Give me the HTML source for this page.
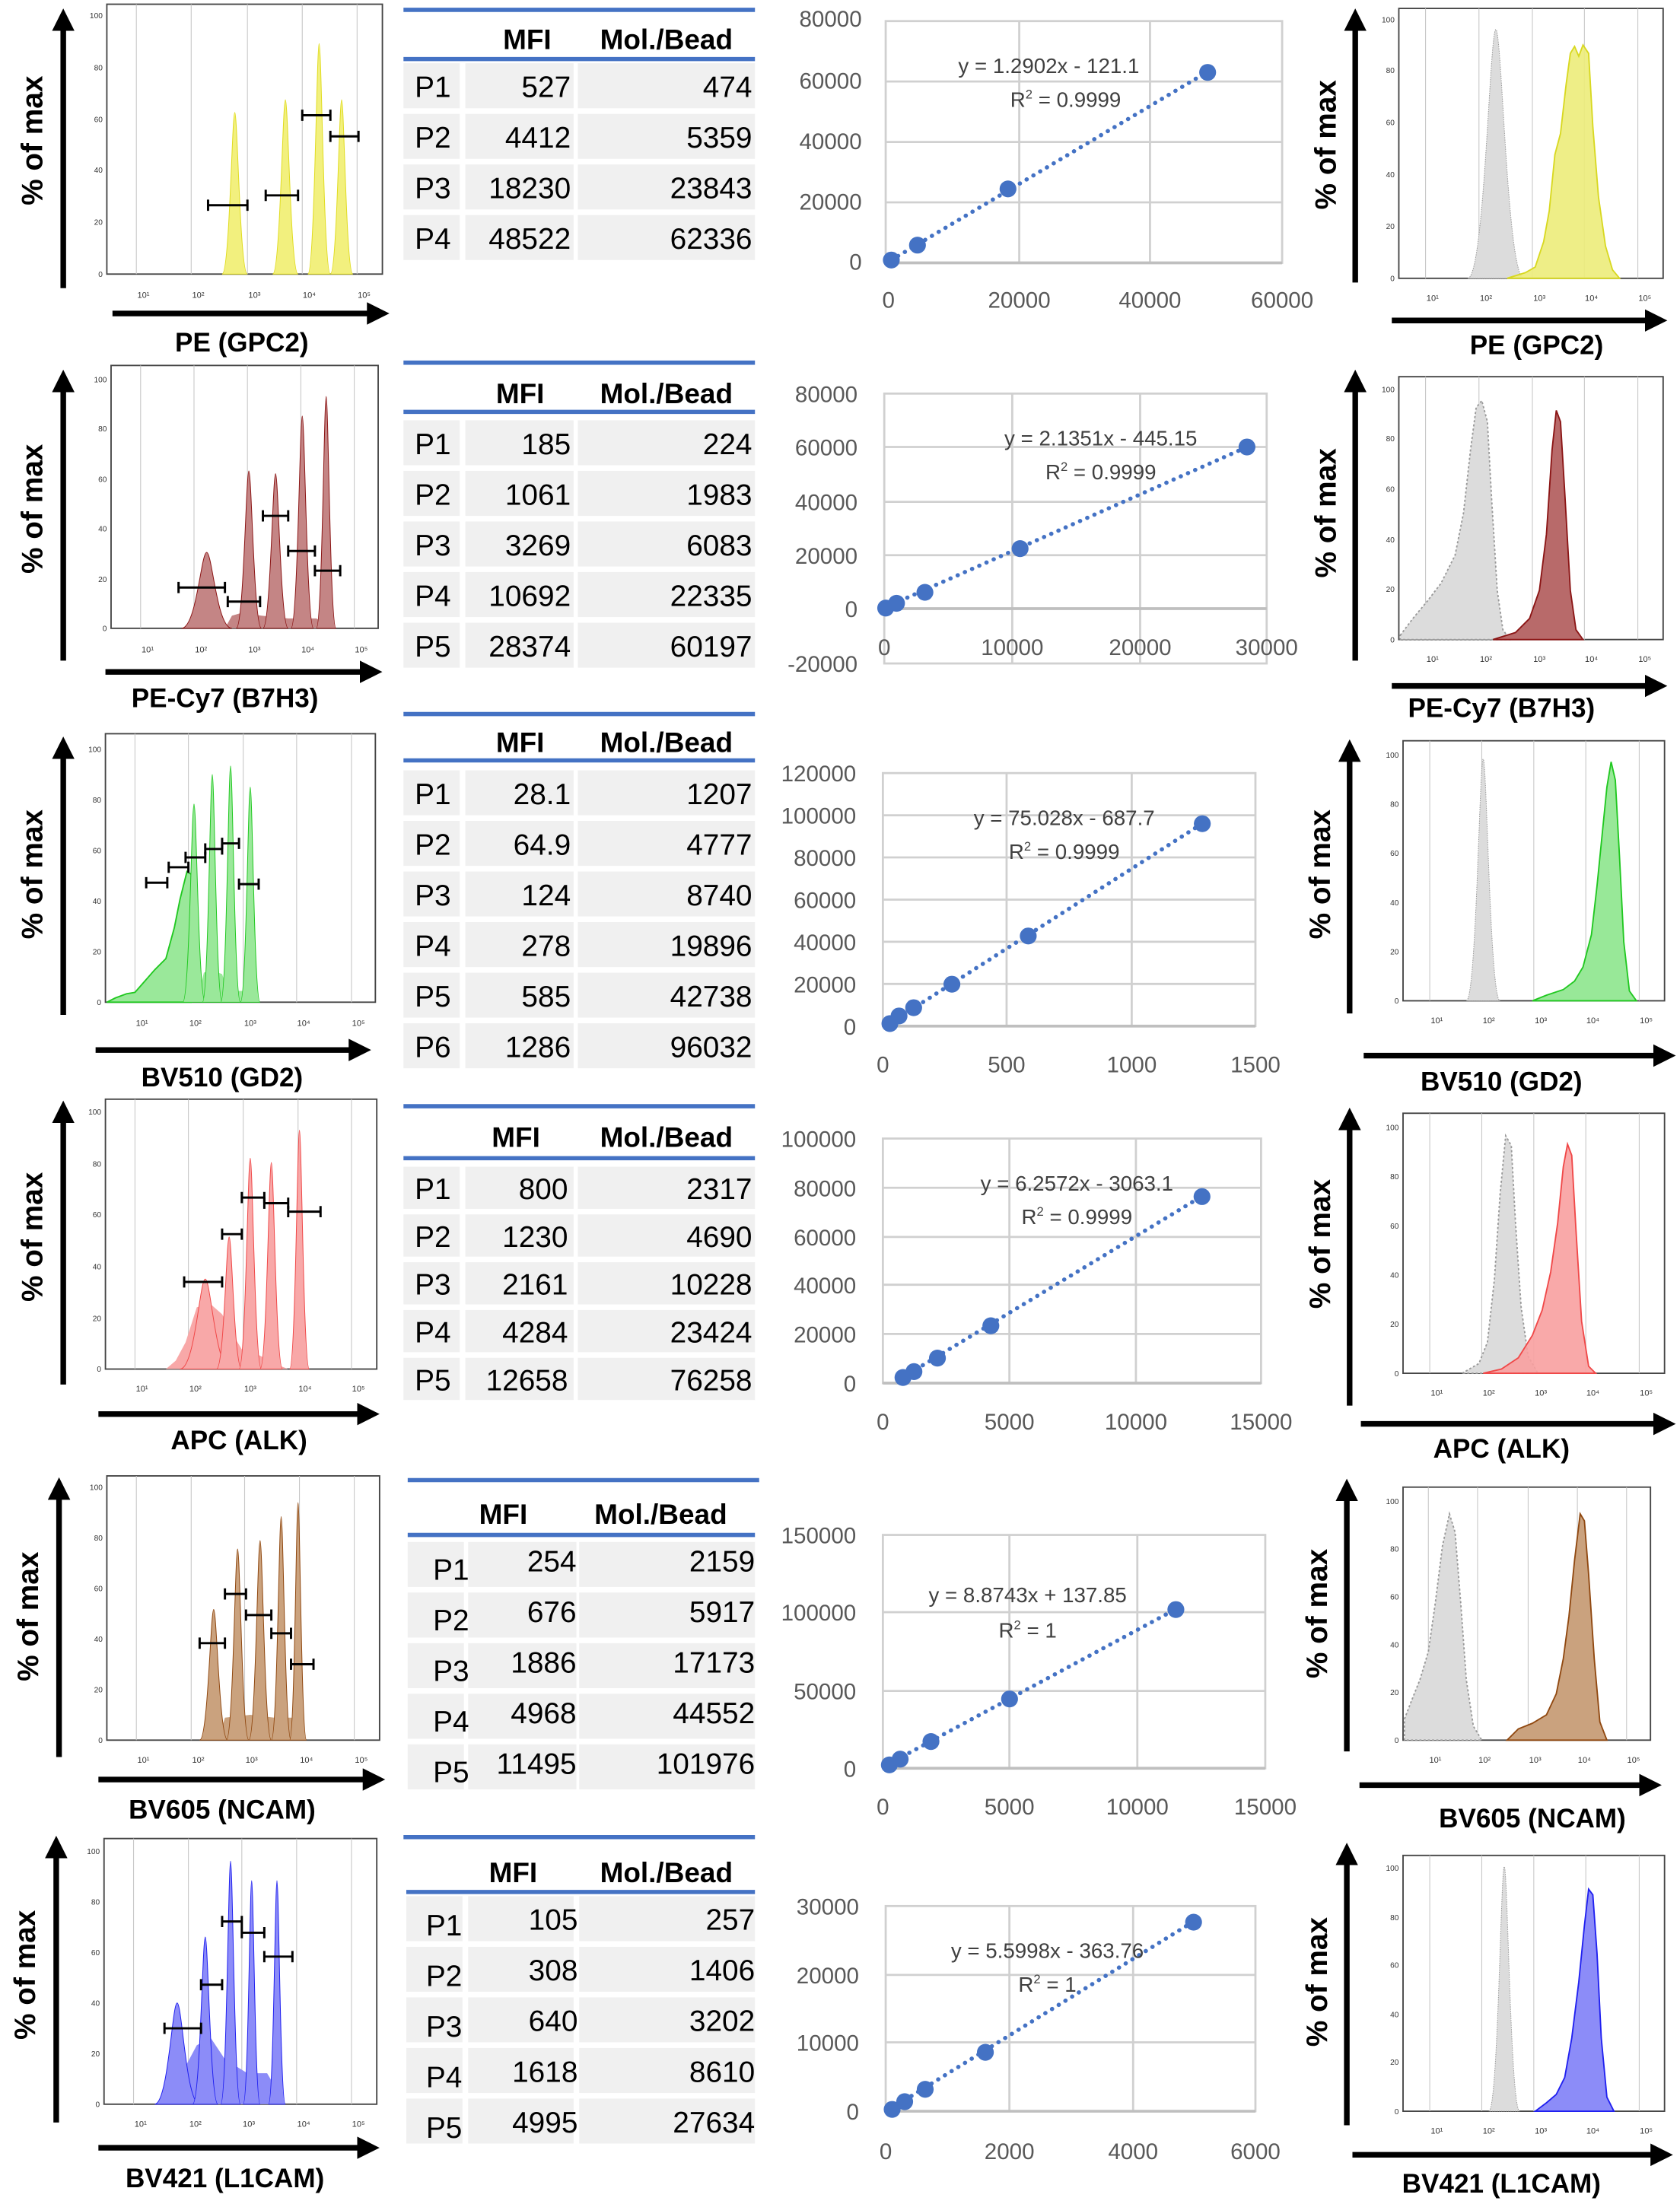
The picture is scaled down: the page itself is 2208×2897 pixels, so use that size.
<!DOCTYPE html>
<html><head><meta charset="utf-8">
<style>
html,body{margin:0;padding:0;background:#fff;}
svg{display:block;}
text{font-family:"Liberation Sans",sans-serif;}
.ax{font-weight:bold;font-size:21px;fill:#000;}
.lb{font-weight:bold;font-size:19px;fill:#000;}
.tk{font-size:5.5px;fill:#333;}
.dk{font-size:6px;fill:#333;}
.th{font-weight:bold;font-size:20px;fill:#000;}
.td{font-size:21px;fill:#000;}
.sl{font-size:16px;fill:#595959;}
.eq{font-size:15px;fill:#404040;}
.gl{stroke:#d0d0d0;stroke-width:1.5;fill:none;}
.hg{stroke:#c8c8c8;stroke-width:0.6;}
.cell{fill:#f0f0f0;}
.bl{stroke:#4472c4;stroke-width:3;}
.pt{fill:#4472c4;}
.tl{stroke:#4472c4;stroke-width:3;stroke-dasharray:0.1 5.5;stroke-linecap:round;fill:none;}
.eb{stroke:#000;stroke-width:1.6;fill:none;}
.gr{fill:#dcdcdc;stroke:#999;stroke-width:1;stroke-dasharray:1.5 1.5;}
</style></head>
<body>
<svg width="2208" height="2897" viewBox="0 0 1195 1568" preserveAspectRatio="none" xmlns="http://www.w3.org/2000/svg">
<defs>
<path id="pk" d="M-1,0 C-0.4,0 -0.22,-1 0,-1 C0.22,-1 0.4,0 1,0Z" vector-effect="non-scaling-stroke"/>
<marker id="ah" markerWidth="4" markerHeight="4" refX="1" refY="2" orient="auto" markerUnits="strokeWidth"><path d="M0,0 L4,2 L0,4Z" fill="#000"/></marker>
</defs>
<rect width="1195" height="1568" fill="#fff"/>

<!-- ============ ROW 1 ============ -->
<g>
<line x1="45" y1="205" x2="45" y2="18" stroke="#000" stroke-width="4" marker-end="url(#ah)"/>
<text class="ax" transform="translate(30,100) rotate(-90)" text-anchor="middle">% of max</text>
<rect x="76" y="3" width="196" height="192" fill="#fff" stroke="#444" stroke-width="1"/>
<g class="hg"><line x1="97" y1="3" x2="97" y2="195"/><line x1="136" y1="3" x2="136" y2="195"/><line x1="176" y1="3" x2="176" y2="195"/><line x1="215" y1="3" x2="215" y2="195"/><line x1="254" y1="3" x2="254" y2="195"/></g>
<g fill="#f2f07e" stroke="#e0dc20" stroke-width="1"><use href="#pk" transform="translate(167,195) scale(9,115)"/><use href="#pk" transform="translate(203,195) scale(9,124)"/><use href="#pk" transform="translate(227,195) scale(8,164)"/><use href="#pk" transform="translate(243,195) scale(8,124)"/></g>
<g class="eb"><path d="M148,146H176M148,142V150M176,142V150"/><path d="M189,139H212M189,135V143M212,135V143"/><path d="M215,82H235M215,78V86M235,78V86"/><path d="M235,97H255M235,93V101M255,93V101"/></g>
<g class="tk" text-anchor="end"><text x="73" y="197">0</text><text x="73" y="160">20</text><text x="73" y="123">40</text><text x="73" y="87">60</text><text x="73" y="50">80</text><text x="73" y="13">100</text></g>
<g class="dk" text-anchor="middle"><text x="102" y="212">10¹</text><text x="141" y="212">10²</text><text x="181" y="212">10³</text><text x="220" y="212">10⁴</text><text x="259" y="212">10⁵</text></g>
<line x1="80" y1="223" x2="265" y2="223" stroke="#000" stroke-width="4" marker-end="url(#ah)"/>
<text class="lb" x="172" y="250" text-anchor="middle">PE (GPC2)</text>

<line class="bl" x1="287" y1="7" x2="537" y2="7"/>
<text class="th" x="375" y="35" text-anchor="middle">MFI</text><text class="th" x="474" y="35" text-anchor="middle">Mol./Bead</text>
<line class="bl" x1="287" y1="42" x2="537" y2="42"/>
<g class="cell"><rect x="287" y="45" width="40" height="32"/><rect x="331" y="45" width="77" height="32"/><rect x="411" y="45" width="126" height="32"/>
<rect x="287" y="81" width="40" height="32"/><rect x="331" y="81" width="77" height="32"/><rect x="411" y="81" width="126" height="32"/>
<rect x="287" y="117" width="40" height="32"/><rect x="331" y="117" width="77" height="32"/><rect x="411" y="117" width="126" height="32"/>
<rect x="287" y="153" width="40" height="32"/><rect x="331" y="153" width="77" height="32"/><rect x="411" y="153" width="126" height="32"/></g>
<g class="td"><text x="295" y="69">P1</text><text x="295" y="105">P2</text><text x="295" y="141">P3</text><text x="295" y="177">P4</text></g>
<g class="td" text-anchor="end"><text x="406" y="69">527</text><text x="406" y="105">4412</text><text x="406" y="141">18230</text><text x="406" y="177">48522</text>
<text x="535" y="69">474</text><text x="535" y="105">5359</text><text x="535" y="141">23843</text><text x="535" y="177">62336</text></g>

<rect x="630" y="15" width="282" height="172" fill="none" stroke="#d0d0d0" stroke-width="1.5"/>
<g class="gl"><line x1="725" y1="15" x2="725" y2="187"/><line x1="818" y1="15" x2="818" y2="187"/><line x1="630" y1="58" x2="912" y2="58"/><line x1="630" y1="101" x2="912" y2="101"/><line x1="630" y1="144" x2="912" y2="144"/></g>
<line x1="630" y1="187" x2="912" y2="187" stroke="#bfbfbf" stroke-width="2"/>
<g class="sl" text-anchor="end"><text x="613" y="19">80000</text><text x="613" y="63">60000</text><text x="613" y="106">40000</text><text x="613" y="149">20000</text><text x="613" y="192">0</text></g>
<g class="sl" text-anchor="middle"><text x="632" y="219">0</text><text x="725" y="219">20000</text><text x="818" y="219">40000</text><text x="912" y="219">60000</text></g>
<line class="tl" x1="634" y1="185" x2="859" y2="51"/>
<g class="pt"><circle cx="634" cy="185" r="6"/><circle cx="652.6" cy="174.4" r="6"/><circle cx="717" cy="134.4" r="6"/><circle cx="859" cy="51.5" r="6"/></g>
<text class="eq" x="746" y="52" text-anchor="middle">y = 1.2902x - 121.1</text>
<text class="eq" x="758" y="76" text-anchor="middle">R<tspan dy="-6" font-size="9">2</tspan><tspan dy="6"> = 0.9999</tspan></text>

<line x1="964" y1="201" x2="964" y2="18" stroke="#000" stroke-width="4" marker-end="url(#ah)"/>
<text class="ax" transform="translate(950,103) rotate(-90)" text-anchor="middle">% of max</text>
<rect x="995" y="6" width="188" height="192" fill="#fff" stroke="#444" stroke-width="1"/>
<g class="hg"><line x1="1014" y1="6" x2="1014" y2="198"/><line x1="1052" y1="6" x2="1052" y2="198"/><line x1="1090" y1="6" x2="1090" y2="198"/><line x1="1127" y1="6" x2="1127" y2="198"/><line x1="1165" y1="6" x2="1165" y2="198"/></g>
<use href="#pk" class="gr" transform="translate(1064,198) scale(20,177)"/>
<path d="M1072,198 L1085,194 L1092,190 L1098,172 L1102,150 L1106,110 L1110,95 L1114,60 L1117,38 L1120,33 L1123,40 L1126,32 L1130,38 L1133,90 L1137,140 L1142,175 L1147,192 L1152,198Z" fill="#ecec7a" fill-opacity="0.9" stroke="#d8d820" stroke-width="1"/>
<g class="tk" text-anchor="end"><text x="992" y="200">0</text><text x="992" y="163">20</text><text x="992" y="126">40</text><text x="992" y="89">60</text><text x="992" y="52">80</text><text x="992" y="16">100</text></g>
<g class="dk" text-anchor="middle"><text x="1019" y="214">10¹</text><text x="1057" y="214">10²</text><text x="1095" y="214">10³</text><text x="1132" y="214">10⁴</text><text x="1170" y="214">10⁵</text></g>
<line x1="990" y1="228" x2="1174" y2="228" stroke="#000" stroke-width="4" marker-end="url(#ah)"/>
<text class="lb" x="1093" y="252" text-anchor="middle">PE (GPC2)</text>
</g>

<!-- ============ ROW 2 ============ -->
<g>
<line x1="45" y1="470" x2="45" y2="275" stroke="#000" stroke-width="4" marker-end="url(#ah)"/>
<text class="ax" transform="translate(30,362) rotate(-90)" text-anchor="middle">% of max</text>
<rect x="79" y="260" width="190" height="187" fill="#fff" stroke="#444" stroke-width="1"/>
<g class="hg"><line x1="100" y1="260" x2="100" y2="447"/><line x1="138" y1="260" x2="138" y2="447"/><line x1="176" y1="260" x2="176" y2="447"/><line x1="214" y1="260" x2="214" y2="447"/><line x1="252" y1="260" x2="252" y2="447"/></g>
<path d="M160,447 L165,438 L172,436 L186,438 L205,440 L225,440 L238,447Z" fill="#c48585"/>
<g fill="#c48585" stroke="#8b1515" stroke-width="1"><use href="#pk" transform="translate(147,447) scale(18,54)"/><use href="#pk" transform="translate(177,447) scale(9,112)"/><use href="#pk" transform="translate(196,447) scale(9,110)"/><use href="#pk" transform="translate(215,447) scale(8,151)"/><use href="#pk" transform="translate(232,447) scale(7,165)"/></g>
<g class="eb"><path d="M127,418H160M127,414V422M160,414V422"/><path d="M162,428H185M162,424V432M185,424V432"/><path d="M187,367H205M187,363V371M205,363V371"/><path d="M205,392H224M205,388V396M224,388V396"/><path d="M224,406H242M224,402V410M242,402V410"/></g>
<g class="tk" text-anchor="end"><text x="76" y="449">0</text><text x="76" y="414">20</text><text x="76" y="378">40</text><text x="76" y="343">60</text><text x="76" y="307">80</text><text x="76" y="272">100</text></g>
<g class="dk" text-anchor="middle"><text x="105" y="464">10¹</text><text x="143" y="464">10²</text><text x="181" y="464">10³</text><text x="219" y="464">10⁴</text><text x="257" y="464">10⁵</text></g>
<line x1="75" y1="478" x2="260" y2="478" stroke="#000" stroke-width="4" marker-end="url(#ah)"/>
<text class="lb" x="160" y="503" text-anchor="middle">PE-Cy7 (B7H3)</text>

<line class="bl" x1="287" y1="258" x2="537" y2="258"/>
<text class="th" x="370" y="287" text-anchor="middle">MFI</text><text class="th" x="474" y="287" text-anchor="middle">Mol./Bead</text>
<line class="bl" x1="287" y1="293" x2="537" y2="293"/>
<g class="cell">
<rect x="287" y="299" width="40" height="32"/><rect x="331" y="299" width="77" height="32"/><rect x="411" y="299" width="126" height="32"/>
<rect x="287" y="335" width="40" height="32"/><rect x="331" y="335" width="77" height="32"/><rect x="411" y="335" width="126" height="32"/>
<rect x="287" y="371" width="40" height="32"/><rect x="331" y="371" width="77" height="32"/><rect x="411" y="371" width="126" height="32"/>
<rect x="287" y="407" width="40" height="32"/><rect x="331" y="407" width="77" height="32"/><rect x="411" y="407" width="126" height="32"/>
<rect x="287" y="443" width="40" height="32"/><rect x="331" y="443" width="77" height="32"/><rect x="411" y="443" width="126" height="32"/></g>
<g class="td"><text x="295" y="323">P1</text><text x="295" y="359">P2</text><text x="295" y="395">P3</text><text x="295" y="431">P4</text><text x="295" y="467">P5</text></g>
<g class="td" text-anchor="end"><text x="406" y="323">185</text><text x="406" y="359">1061</text><text x="406" y="395">3269</text><text x="406" y="431">10692</text><text x="406" y="467">28374</text>
<text x="535" y="323">224</text><text x="535" y="359">1983</text><text x="535" y="395">6083</text><text x="535" y="431">22335</text><text x="535" y="467">60197</text></g>

<rect x="629" y="280" width="272" height="192" fill="none" stroke="#d0d0d0" stroke-width="1.5"/>
<g class="gl"><line x1="720" y1="280" x2="720" y2="472"/><line x1="811" y1="280" x2="811" y2="472"/><line x1="629" y1="318" x2="901" y2="318"/><line x1="629" y1="357" x2="901" y2="357"/><line x1="629" y1="395" x2="901" y2="395"/></g>
<line x1="629" y1="433" x2="901" y2="433" stroke="#bfbfbf" stroke-width="2"/>
<g class="sl" text-anchor="end"><text x="610" y="286">80000</text><text x="610" y="324">60000</text><text x="610" y="363">40000</text><text x="610" y="401">20000</text><text x="610" y="439">0</text><text x="610" y="478">-20000</text></g>
<g class="sl" text-anchor="middle"><text x="629" y="466">0</text><text x="720" y="466">10000</text><text x="811" y="466">20000</text><text x="901" y="466">30000</text></g>
<line class="tl" x1="630" y1="432" x2="887" y2="318"/>
<g class="pt"><circle cx="630" cy="432.6" r="6"/><circle cx="637.7" cy="429.2" r="6"/><circle cx="657.9" cy="421.4" r="6"/><circle cx="725.6" cy="390.3" r="6"/><circle cx="887" cy="318" r="6"/></g>
<text class="eq" x="783" y="317" text-anchor="middle">y = 2.1351x - 445.15</text>
<text class="eq" x="783" y="341" text-anchor="middle">R<tspan dy="-6" font-size="9">2</tspan><tspan dy="6"> = 0.9999</tspan></text>

<line x1="964" y1="470" x2="964" y2="275" stroke="#000" stroke-width="4" marker-end="url(#ah)"/>
<text class="ax" transform="translate(950,365) rotate(-90)" text-anchor="middle">% of max</text>
<rect x="995" y="268" width="188" height="187" fill="#fff" stroke="#444" stroke-width="1"/>
<g class="hg"><line x1="1014" y1="268" x2="1014" y2="455"/><line x1="1052" y1="268" x2="1052" y2="455"/><line x1="1090" y1="268" x2="1090" y2="455"/><line x1="1127" y1="268" x2="1127" y2="455"/><line x1="1165" y1="268" x2="1165" y2="455"/></g>
<path class="gr" d="M996,452 L1005,440 L1015,428 L1025,415 L1035,395 L1041,365 L1046,320 L1050,290 L1054,285 L1058,300 L1061,355 L1065,420 L1069,448 L1074,455 L996,455Z"/>
<path d="M1062,455 L1078,450 L1088,440 L1095,420 L1100,380 L1104,320 L1107,292 L1110,300 L1113,350 L1117,420 L1121,448 L1126,455Z" fill="#b86a6a" stroke="#8b1515" stroke-width="1"/>
<g class="tk" text-anchor="end"><text x="992" y="457">0</text><text x="992" y="421">20</text><text x="992" y="386">40</text><text x="992" y="350">60</text><text x="992" y="314">80</text><text x="992" y="279">100</text></g>
<g class="dk" text-anchor="middle"><text x="1019" y="471">10¹</text><text x="1057" y="471">10²</text><text x="1095" y="471">10³</text><text x="1132" y="471">10⁴</text><text x="1170" y="471">10⁵</text></g>
<line x1="990" y1="488" x2="1174" y2="488" stroke="#000" stroke-width="4" marker-end="url(#ah)"/>
<text class="lb" x="1068" y="510" text-anchor="middle">PE-Cy7 (B7H3)</text>
</g>

<!-- ============ ROW 3 ============ -->
<g>
<line x1="45" y1="722" x2="45" y2="536" stroke="#000" stroke-width="4" marker-end="url(#ah)"/>
<text class="ax" transform="translate(30,622) rotate(-90)" text-anchor="middle">% of max</text>
<rect x="75" y="522" width="192" height="191" fill="#fff" stroke="#444" stroke-width="1"/>
<g class="hg"><line x1="96" y1="522" x2="96" y2="713"/><line x1="134" y1="522" x2="134" y2="713"/><line x1="173" y1="522" x2="173" y2="713"/><line x1="211" y1="522" x2="211" y2="713"/><line x1="250" y1="522" x2="250" y2="713"/></g>
<path d="M140,713 L145,692 L150,690 L158,693 L162,705 L170,705 L176,705 L182,713Z" fill="#9ae89a"/>
<g fill="#9ae89a" stroke="#20c820" stroke-width="1">
<path d="M76,713 L82,710 L90,707 L96,706 L103,698 L110,690 L118,682 L124,660 L128,640 L133,620 L136,622 L136,713Z"/>
<use href="#pk" transform="translate(138,713) scale(8,141)"/><use href="#pk" transform="translate(151,713) scale(7,162)"/><use href="#pk" transform="translate(164,713) scale(7,168)"/><use href="#pk" transform="translate(178,713) scale(7,153)"/></g>
<g class="eb"><path d="M104,628H119M104,624V632M119,624V632"/><path d="M120,617H134M120,613V621M134,613V621"/><path d="M132,610H146M132,606V614M146,606V614"/><path d="M146,604H158M146,600V608M158,600V608"/><path d="M158,600H170M158,596V604M170,596V604"/><path d="M170,629H184M170,625V633M184,625V633"/></g>
<g class="tk" text-anchor="end"><text x="72" y="715">0</text><text x="72" y="679">20</text><text x="72" y="643">40</text><text x="72" y="607">60</text><text x="72" y="571">80</text><text x="72" y="535">100</text></g>
<g class="dk" text-anchor="middle"><text x="101" y="730">10¹</text><text x="139" y="730">10²</text><text x="178" y="730">10³</text><text x="216" y="730">10⁴</text><text x="255" y="730">10⁵</text></g>
<line x1="68" y1="747" x2="252" y2="747" stroke="#000" stroke-width="4" marker-end="url(#ah)"/>
<text class="lb" x="158" y="773" text-anchor="middle">BV510 (GD2)</text>

<line class="bl" x1="287" y1="508" x2="537" y2="508"/>
<text class="th" x="370" y="535" text-anchor="middle">MFI</text><text class="th" x="474" y="535" text-anchor="middle">Mol./Bead</text>
<line class="bl" x1="287" y1="541" x2="537" y2="541"/>
<g class="cell">
<rect x="287" y="548" width="40" height="32"/><rect x="331" y="548" width="77" height="32"/><rect x="411" y="548" width="126" height="32"/>
<rect x="287" y="584" width="40" height="32"/><rect x="331" y="584" width="77" height="32"/><rect x="411" y="584" width="126" height="32"/>
<rect x="287" y="620" width="40" height="32"/><rect x="331" y="620" width="77" height="32"/><rect x="411" y="620" width="126" height="32"/>
<rect x="287" y="656" width="40" height="32"/><rect x="331" y="656" width="77" height="32"/><rect x="411" y="656" width="126" height="32"/>
<rect x="287" y="692" width="40" height="32"/><rect x="331" y="692" width="77" height="32"/><rect x="411" y="692" width="126" height="32"/>
<rect x="287" y="728" width="40" height="32"/><rect x="331" y="728" width="77" height="32"/><rect x="411" y="728" width="126" height="32"/></g>
<g class="td"><text x="295" y="572">P1</text><text x="295" y="608">P2</text><text x="295" y="644">P3</text><text x="295" y="680">P4</text><text x="295" y="716">P5</text><text x="295" y="752">P6</text></g>
<g class="td" text-anchor="end"><text x="406" y="572">28.1</text><text x="406" y="608">64.9</text><text x="406" y="644">124</text><text x="406" y="680">278</text><text x="406" y="716">585</text><text x="406" y="752">1286</text>
<text x="535" y="572">1207</text><text x="535" y="608">4777</text><text x="535" y="644">8740</text><text x="535" y="680">19896</text><text x="535" y="716">42738</text><text x="535" y="752">96032</text></g>

<rect x="628" y="550" width="265" height="180" fill="none" stroke="#d0d0d0" stroke-width="1.5"/>
<g class="gl"><line x1="716" y1="550" x2="716" y2="730"/><line x1="805" y1="550" x2="805" y2="730"/><line x1="628" y1="580" x2="893" y2="580"/><line x1="628" y1="610" x2="893" y2="610"/><line x1="628" y1="640" x2="893" y2="640"/><line x1="628" y1="670" x2="893" y2="670"/><line x1="628" y1="700" x2="893" y2="700"/></g>
<line x1="628" y1="730" x2="893" y2="730" stroke="#bfbfbf" stroke-width="2"/>
<g class="sl" text-anchor="end"><text x="609" y="556">120000</text><text x="609" y="586">100000</text><text x="609" y="616">80000</text><text x="609" y="646">60000</text><text x="609" y="676">40000</text><text x="609" y="706">20000</text><text x="609" y="736">0</text></g>
<g class="sl" text-anchor="middle"><text x="628" y="763">0</text><text x="716" y="763">500</text><text x="805" y="763">1000</text><text x="893" y="763">1500</text></g>
<line class="tl" x1="633" y1="728" x2="855" y2="586"/>
<g class="pt"><circle cx="633" cy="728.2" r="6"/><circle cx="639.5" cy="722.8" r="6"/><circle cx="649.9" cy="716.9" r="6"/><circle cx="677.1" cy="700.2" r="6"/><circle cx="731.4" cy="665.9" r="6"/><circle cx="855.2" cy="586" r="6"/></g>
<text class="eq" x="757" y="587" text-anchor="middle">y = 75.028x - 687.7</text>
<text class="eq" x="757" y="611" text-anchor="middle">R<tspan dy="-6" font-size="9">2</tspan><tspan dy="6"> = 0.9999</tspan></text>

<line x1="960" y1="721" x2="960" y2="538" stroke="#000" stroke-width="4" marker-end="url(#ah)"/>
<text class="ax" transform="translate(946,622) rotate(-90)" text-anchor="middle">% of max</text>
<rect x="998" y="527" width="186" height="185" fill="#fff" stroke="#444" stroke-width="1"/>
<g class="hg"><line x1="1017" y1="527" x2="1017" y2="712"/><line x1="1054" y1="527" x2="1054" y2="712"/><line x1="1091" y1="527" x2="1091" y2="712"/><line x1="1128" y1="527" x2="1128" y2="712"/><line x1="1166" y1="527" x2="1166" y2="712"/></g>
<use href="#pk" class="gr" transform="translate(1055,712) scale(12,172)"/>
<path d="M1090,712 L1100,708 L1112,704 L1120,698 L1126,688 L1132,665 L1136,630 L1140,590 L1143,560 L1146,542 L1149,555 L1152,610 L1155,670 L1159,705 L1164,712Z" fill="#98e898" stroke="#20c820" stroke-width="1"/>
<g class="tk" text-anchor="end"><text x="995" y="714">0</text><text x="995" y="679">20</text><text x="995" y="644">40</text><text x="995" y="609">60</text><text x="995" y="574">80</text><text x="995" y="539">100</text></g>
<g class="dk" text-anchor="middle"><text x="1022" y="728">10¹</text><text x="1059" y="728">10²</text><text x="1096" y="728">10³</text><text x="1133" y="728">10⁴</text><text x="1171" y="728">10⁵</text></g>
<line x1="970" y1="751" x2="1180" y2="751" stroke="#000" stroke-width="4" marker-end="url(#ah)"/>
<text class="lb" x="1068" y="776" text-anchor="middle">BV510 (GD2)</text>
</g>

<!-- ============ ROW 4 ============ -->
<g>
<line x1="45" y1="985" x2="45" y2="795" stroke="#000" stroke-width="4" marker-end="url(#ah)"/>
<text class="ax" transform="translate(30,880) rotate(-90)" text-anchor="middle">% of max</text>
<rect x="75" y="782" width="193" height="192" fill="#fff" stroke="#444" stroke-width="1"/>
<g class="hg"><line x1="96" y1="782" x2="96" y2="974"/><line x1="134" y1="782" x2="134" y2="974"/><line x1="173" y1="782" x2="173" y2="974"/><line x1="212" y1="782" x2="212" y2="974"/><line x1="250" y1="782" x2="250" y2="974"/></g>
<path d="M118,974 L125,968 L132,955 L140,930 L150,928 L158,935 L166,950 L172,960 L180,962 L188,966 L200,972 L205,974Z" fill="#f8a8a8"/>
<g fill="#f8a8a8" stroke="#f04848" stroke-width="1"><use href="#pk" transform="translate(146,974) scale(18,64)"/><use href="#pk" transform="translate(163,974) scale(9,94)"/><use href="#pk" transform="translate(178,974) scale(8,150)"/><use href="#pk" transform="translate(193,974) scale(8,147)"/><use href="#pk" transform="translate(213,974) scale(7,170)"/></g>
<g class="eb"><path d="M131,912H158M131,908V916M158,908V916"/><path d="M158,878H172M158,874V882M172,874V882"/><path d="M172,852H188M172,848V856M188,848V856"/><path d="M188,856H205M188,852V860M205,852V860"/><path d="M205,862H228M205,858V866M228,858V866"/></g>
<g class="tk" text-anchor="end"><text x="72" y="976">0</text><text x="72" y="940">20</text><text x="72" y="903">40</text><text x="72" y="866">60</text><text x="72" y="830">80</text><text x="72" y="793">100</text></g>
<g class="dk" text-anchor="middle"><text x="101" y="990">10¹</text><text x="139" y="990">10²</text><text x="178" y="990">10³</text><text x="217" y="990">10⁴</text><text x="255" y="990">10⁵</text></g>
<line x1="70" y1="1006" x2="258" y2="1006" stroke="#000" stroke-width="4" marker-end="url(#ah)"/>
<text class="lb" x="170" y="1031" text-anchor="middle">APC (ALK)</text>

<line class="bl" x1="287" y1="787" x2="537" y2="787"/>
<text class="th" x="367" y="816" text-anchor="middle">MFI</text><text class="th" x="474" y="816" text-anchor="middle">Mol./Bead</text>
<line class="bl" x1="287" y1="824" x2="537" y2="824"/>
<g class="cell">
<rect x="287" y="830" width="40" height="30"/><rect x="331" y="830" width="77" height="30"/><rect x="411" y="830" width="126" height="30"/>
<rect x="287" y="864" width="40" height="30"/><rect x="331" y="864" width="77" height="30"/><rect x="411" y="864" width="126" height="30"/>
<rect x="287" y="898" width="40" height="30"/><rect x="331" y="898" width="77" height="30"/><rect x="411" y="898" width="126" height="30"/>
<rect x="287" y="932" width="40" height="30"/><rect x="331" y="932" width="77" height="30"/><rect x="411" y="932" width="126" height="30"/>
<rect x="287" y="966" width="40" height="30"/><rect x="331" y="966" width="77" height="30"/><rect x="411" y="966" width="126" height="30"/></g>
<g class="td"><text x="295" y="853">P1</text><text x="295" y="887">P2</text><text x="295" y="921">P3</text><text x="295" y="955">P4</text><text x="295" y="989">P5</text></g>
<g class="td" text-anchor="end"><text x="404" y="853">800</text><text x="404" y="887">1230</text><text x="404" y="921">2161</text><text x="404" y="955">4284</text><text x="404" y="989">12658</text>
<text x="535" y="853">2317</text><text x="535" y="887">4690</text><text x="535" y="921">10228</text><text x="535" y="955">23424</text><text x="535" y="989">76258</text></g>

<rect x="628" y="810" width="269" height="174" fill="none" stroke="#d0d0d0" stroke-width="1.5"/>
<g class="gl"><line x1="718" y1="810" x2="718" y2="984"/><line x1="808" y1="810" x2="808" y2="984"/><line x1="628" y1="845" x2="897" y2="845"/><line x1="628" y1="880" x2="897" y2="880"/><line x1="628" y1="914" x2="897" y2="914"/><line x1="628" y1="949" x2="897" y2="949"/></g>
<line x1="628" y1="984" x2="897" y2="984" stroke="#bfbfbf" stroke-width="2"/>
<g class="sl" text-anchor="end"><text x="609" y="816">100000</text><text x="609" y="851">80000</text><text x="609" y="886">60000</text><text x="609" y="920">40000</text><text x="609" y="955">20000</text><text x="609" y="990">0</text></g>
<g class="sl" text-anchor="middle"><text x="628" y="1017">0</text><text x="718" y="1017">5000</text><text x="808" y="1017">10000</text><text x="897" y="1017">15000</text></g>
<line class="tl" x1="642" y1="980" x2="855" y2="851"/>
<g class="pt"><circle cx="642.3" cy="980" r="6"/><circle cx="650.1" cy="975.8" r="6"/><circle cx="666.8" cy="966.2" r="6"/><circle cx="704.8" cy="943.2" r="6"/><circle cx="855" cy="851.3" r="6"/></g>
<text class="eq" x="766" y="847" text-anchor="middle">y = 6.2572x - 3063.1</text>
<text class="eq" x="766" y="871" text-anchor="middle">R<tspan dy="-6" font-size="9">2</tspan><tspan dy="6"> = 0.9999</tspan></text>

<line x1="960" y1="1000" x2="960" y2="800" stroke="#000" stroke-width="4" marker-end="url(#ah)"/>
<text class="ax" transform="translate(946,885) rotate(-90)" text-anchor="middle">% of max</text>
<rect x="998" y="792" width="186" height="185" fill="#fff" stroke="#444" stroke-width="1"/>
<g class="hg"><line x1="1017" y1="792" x2="1017" y2="977"/><line x1="1054" y1="792" x2="1054" y2="977"/><line x1="1091" y1="792" x2="1091" y2="977"/><line x1="1128" y1="792" x2="1128" y2="977"/><line x1="1166" y1="792" x2="1166" y2="977"/></g>
<path class="gr" d="M1040,977 L1052,970 L1058,955 L1063,910 L1067,850 L1071,808 L1075,815 L1078,870 L1082,930 L1087,965 L1094,977Z"/>
<path d="M1055,977 L1068,974 L1080,966 L1090,950 L1097,932 L1103,905 L1108,870 L1112,830 L1115,814 L1118,822 L1121,875 L1125,940 L1130,972 L1135,977Z" fill="#f8a0a0" fill-opacity="0.9" stroke="#f04848" stroke-width="1"/>
<g class="tk" text-anchor="end"><text x="995" y="979">0</text><text x="995" y="944">20</text><text x="995" y="909">40</text><text x="995" y="874">60</text><text x="995" y="839">80</text><text x="995" y="804">100</text></g>
<g class="dk" text-anchor="middle"><text x="1022" y="993">10¹</text><text x="1059" y="993">10²</text><text x="1096" y="993">10³</text><text x="1133" y="993">10⁴</text><text x="1171" y="993">10⁵</text></g>
<line x1="968" y1="1013" x2="1180" y2="1013" stroke="#000" stroke-width="4" marker-end="url(#ah)"/>
<text class="lb" x="1068" y="1037" text-anchor="middle">APC (ALK)</text>
</g>

<!-- ============ ROW 5 ============ -->
<g>
<line x1="42" y1="1250" x2="42" y2="1063" stroke="#000" stroke-width="4" marker-end="url(#ah)"/>
<text class="ax" transform="translate(27,1150) rotate(-90)" text-anchor="middle">% of max</text>
<rect x="76" y="1050" width="194" height="188" fill="#fff" stroke="#444" stroke-width="1"/>
<g class="hg"><line x1="97" y1="1050" x2="97" y2="1238"/><line x1="136" y1="1050" x2="136" y2="1238"/><line x1="174" y1="1050" x2="174" y2="1238"/><line x1="213" y1="1050" x2="213" y2="1238"/><line x1="252" y1="1050" x2="252" y2="1238"/></g>
<path d="M155,1238 L160,1222 L178,1220 L195,1222 L208,1222 L215,1238Z" fill="#caa27e"/>
<g fill="#caa27e" stroke="#904810" stroke-width="1"><use href="#pk" transform="translate(152,1238) scale(10,93)"/><use href="#pk" transform="translate(169,1238) scale(8,136)"/><use href="#pk" transform="translate(185,1238) scale(8,142)"/><use href="#pk" transform="translate(200,1238) scale(7,159)"/><use href="#pk" transform="translate(212,1238) scale(6,169)"/></g>
<g class="eb"><path d="M142,1169H160M142,1165V1173M160,1165V1173"/><path d="M160,1134H175M160,1130V1138M175,1130V1138"/><path d="M175,1149H193M175,1145V1153M193,1145V1153"/><path d="M193,1162H207M193,1158V1166M207,1158V1166"/><path d="M207,1184H223M207,1180V1188M223,1180V1188"/></g>
<g class="tk" text-anchor="end"><text x="73" y="1240">0</text><text x="73" y="1204">20</text><text x="73" y="1168">40</text><text x="73" y="1132">60</text><text x="73" y="1096">80</text><text x="73" y="1060">100</text></g>
<g class="dk" text-anchor="middle"><text x="102" y="1254">10¹</text><text x="141" y="1254">10²</text><text x="179" y="1254">10³</text><text x="218" y="1254">10⁴</text><text x="257" y="1254">10⁵</text></g>
<line x1="70" y1="1266" x2="262" y2="1266" stroke="#000" stroke-width="4" marker-end="url(#ah)"/>
<text class="lb" x="158" y="1294" text-anchor="middle">BV605 (NCAM)</text>

<line class="bl" x1="290" y1="1053" x2="540" y2="1053"/>
<text class="th" x="358" y="1084" text-anchor="middle">MFI</text><text class="th" x="470" y="1084" text-anchor="middle">Mol./Bead</text>
<line class="bl" x1="290" y1="1092" x2="537" y2="1092"/>
<g class="cell">
<rect x="290" y="1097" width="40" height="32"/><rect x="333" y="1097" width="77" height="32"/><rect x="412" y="1097" width="125" height="32"/>
<rect x="290" y="1133" width="40" height="32"/><rect x="333" y="1133" width="77" height="32"/><rect x="412" y="1133" width="125" height="32"/>
<rect x="290" y="1169" width="40" height="32"/><rect x="333" y="1169" width="77" height="32"/><rect x="412" y="1169" width="125" height="32"/>
<rect x="290" y="1205" width="40" height="32"/><rect x="333" y="1205" width="77" height="32"/><rect x="412" y="1205" width="125" height="32"/>
<rect x="290" y="1241" width="40" height="32"/><rect x="333" y="1241" width="77" height="32"/><rect x="412" y="1241" width="125" height="32"/></g>
<g class="td"><text x="308" y="1124">P1</text><text x="308" y="1160">P2</text><text x="308" y="1196">P3</text><text x="308" y="1232">P4</text><text x="308" y="1268">P5</text></g>
<g class="td" text-anchor="end"><text x="410" y="1118">254</text><text x="410" y="1154">676</text><text x="410" y="1190">1886</text><text x="410" y="1226">4968</text><text x="410" y="1262">11495</text>
<text x="537" y="1118">2159</text><text x="537" y="1154">5917</text><text x="537" y="1190">17173</text><text x="537" y="1226">44552</text><text x="537" y="1262">101976</text></g>

<rect x="628" y="1092" width="272" height="166" fill="none" stroke="#d0d0d0" stroke-width="1.5"/>
<g class="gl"><line x1="718" y1="1092" x2="718" y2="1258"/><line x1="809" y1="1092" x2="809" y2="1258"/><line x1="628" y1="1147" x2="900" y2="1147"/><line x1="628" y1="1203" x2="900" y2="1203"/></g>
<line x1="628" y1="1258" x2="900" y2="1258" stroke="#bfbfbf" stroke-width="2"/>
<g class="sl" text-anchor="end"><text x="609" y="1098">150000</text><text x="609" y="1153">100000</text><text x="609" y="1209">50000</text><text x="609" y="1264">0</text></g>
<g class="sl" text-anchor="middle"><text x="628" y="1291">0</text><text x="718" y="1291">5000</text><text x="809" y="1291">10000</text><text x="900" y="1291">15000</text></g>
<line class="tl" x1="632" y1="1255" x2="836" y2="1145"/>
<g class="pt"><circle cx="632.6" cy="1255.6" r="6"/><circle cx="640.3" cy="1251.5" r="6"/><circle cx="662.2" cy="1239" r="6"/><circle cx="718.1" cy="1208.7" r="6"/><circle cx="836.4" cy="1145.1" r="6"/></g>
<text class="eq" x="731" y="1140" text-anchor="middle">y = 8.8743x + 137.85</text>
<text class="eq" x="731" y="1165" text-anchor="middle">R<tspan dy="-6" font-size="9">2</tspan><tspan dy="6"> = 1</tspan></text>

<line x1="958" y1="1246" x2="958" y2="1064" stroke="#000" stroke-width="4" marker-end="url(#ah)"/>
<text class="ax" transform="translate(944,1148) rotate(-90)" text-anchor="middle">% of max</text>
<rect x="998" y="1058" width="176" height="180" fill="#fff" stroke="#444" stroke-width="1"/>
<g class="hg"><line x1="1016" y1="1058" x2="1016" y2="1238"/><line x1="1051" y1="1058" x2="1051" y2="1238"/><line x1="1087" y1="1058" x2="1087" y2="1238"/><line x1="1122" y1="1058" x2="1122" y2="1238"/><line x1="1157" y1="1058" x2="1157" y2="1238"/></g>
<path class="gr" d="M999,1223 L1004,1210 L1010,1195 L1016,1175 L1021,1140 L1026,1100 L1031,1077 L1035,1090 L1039,1140 L1043,1195 L1048,1228 L1054,1238 L999,1238Z"/>
<path d="M1072,1238 L1080,1230 L1090,1226 L1100,1220 L1107,1205 L1112,1180 L1116,1150 L1120,1110 L1124,1077 L1127,1082 L1130,1120 L1134,1180 L1138,1225 L1143,1238Z" fill="#caa27e" stroke="#904810" stroke-width="1"/>
<g class="tk" text-anchor="end"><text x="995" y="1240">0</text><text x="995" y="1206">20</text><text x="995" y="1172">40</text><text x="995" y="1138">60</text><text x="995" y="1104">80</text><text x="995" y="1070">100</text></g>
<g class="dk" text-anchor="middle"><text x="1021" y="1254">10¹</text><text x="1056" y="1254">10²</text><text x="1092" y="1254">10³</text><text x="1127" y="1254">10⁴</text><text x="1162" y="1254">10⁵</text></g>
<line x1="967" y1="1270" x2="1170" y2="1270" stroke="#000" stroke-width="4" marker-end="url(#ah)"/>
<text class="lb" x="1090" y="1300" text-anchor="middle">BV605 (NCAM)</text>
</g>

<!-- ============ ROW 6 ============ -->
<g>
<line x1="40" y1="1510" x2="40" y2="1318" stroke="#000" stroke-width="4" marker-end="url(#ah)"/>
<text class="ax" transform="translate(25,1405) rotate(-90)" text-anchor="middle">% of max</text>
<rect x="74" y="1308" width="194" height="189" fill="#fff" stroke="#444" stroke-width="1"/>
<g class="hg"><line x1="95" y1="1308" x2="95" y2="1497"/><line x1="134" y1="1308" x2="134" y2="1497"/><line x1="172" y1="1308" x2="172" y2="1497"/><line x1="211" y1="1308" x2="211" y2="1497"/><line x1="250" y1="1308" x2="250" y2="1497"/></g>
<path d="M125,1497 L132,1470 L140,1455 L150,1450 L160,1465 L168,1470 L176,1475 L190,1475 L203,1497Z" fill="#8c8cf8"/>
<g fill="#8c8cf8" stroke="#2020f0" stroke-width="1"><use href="#pk" transform="translate(126,1497) scale(16,72)"/><use href="#pk" transform="translate(146,1497) scale(9,119)"/><use href="#pk" transform="translate(164,1497) scale(7,173)"/><use href="#pk" transform="translate(179,1497) scale(6,159)"/><use href="#pk" transform="translate(197,1497) scale(6,159)"/></g>
<g class="eb"><path d="M117,1443H143M117,1439V1447M143,1439V1447"/><path d="M143,1412H158M143,1408V1416M158,1408V1416"/><path d="M158,1367H172M158,1363V1371M172,1363V1371"/><path d="M172,1375H188M172,1371V1379M188,1371V1379"/><path d="M188,1392H208M188,1388V1396M208,1388V1396"/></g>
<g class="tk" text-anchor="end"><text x="71" y="1499">0</text><text x="71" y="1463">20</text><text x="71" y="1427">40</text><text x="71" y="1391">60</text><text x="71" y="1355">80</text><text x="71" y="1319">100</text></g>
<g class="dk" text-anchor="middle"><text x="100" y="1513">10¹</text><text x="139" y="1513">10²</text><text x="177" y="1513">10³</text><text x="216" y="1513">10⁴</text><text x="255" y="1513">10⁵</text></g>
<line x1="70" y1="1528" x2="258" y2="1528" stroke="#000" stroke-width="4" marker-end="url(#ah)"/>
<text class="lb" x="160" y="1556" text-anchor="middle">BV421 (L1CAM)</text>

<line class="bl" x1="287" y1="1307" x2="537" y2="1307"/>
<text class="th" x="365" y="1339" text-anchor="middle">MFI</text><text class="th" x="474" y="1339" text-anchor="middle">Mol./Bead</text>
<line class="bl" x1="289" y1="1346" x2="537" y2="1346"/>
<g class="cell">
<rect x="289" y="1349" width="40" height="32"/><rect x="333" y="1349" width="75" height="32"/><rect x="412" y="1349" width="125" height="32"/>
<rect x="289" y="1385" width="40" height="32"/><rect x="333" y="1385" width="75" height="32"/><rect x="412" y="1385" width="125" height="32"/>
<rect x="289" y="1421" width="40" height="32"/><rect x="333" y="1421" width="75" height="32"/><rect x="412" y="1421" width="125" height="32"/>
<rect x="289" y="1457" width="40" height="32"/><rect x="333" y="1457" width="75" height="32"/><rect x="412" y="1457" width="125" height="32"/>
<rect x="289" y="1493" width="40" height="32"/><rect x="333" y="1493" width="75" height="32"/><rect x="412" y="1493" width="125" height="32"/></g>
<g class="td"><text x="303" y="1377">P1</text><text x="303" y="1413">P2</text><text x="303" y="1449">P3</text><text x="303" y="1485">P4</text><text x="303" y="1521">P5</text></g>
<g class="td" text-anchor="end"><text x="411" y="1373">105</text><text x="411" y="1409">308</text><text x="411" y="1445">640</text><text x="411" y="1481">1618</text><text x="411" y="1517">4995</text>
<text x="537" y="1373">257</text><text x="537" y="1409">1406</text><text x="537" y="1445">3202</text><text x="537" y="1481">8610</text><text x="537" y="1517">27634</text></g>

<rect x="630" y="1356" width="263" height="146" fill="none" stroke="#d0d0d0" stroke-width="1.5"/>
<g class="gl"><line x1="718" y1="1356" x2="718" y2="1502"/><line x1="806" y1="1356" x2="806" y2="1502"/><line x1="630" y1="1405" x2="893" y2="1405"/><line x1="630" y1="1453" x2="893" y2="1453"/></g>
<line x1="630" y1="1502" x2="893" y2="1502" stroke="#bfbfbf" stroke-width="2"/>
<g class="sl" text-anchor="end"><text x="611" y="1362">30000</text><text x="611" y="1411">20000</text><text x="611" y="1459">10000</text><text x="611" y="1508">0</text></g>
<g class="sl" text-anchor="middle"><text x="630" y="1536">0</text><text x="718" y="1536">2000</text><text x="806" y="1536">4000</text><text x="893" y="1536">6000</text></g>
<line class="tl" x1="634" y1="1500" x2="849" y2="1367"/>
<g class="pt"><circle cx="634.6" cy="1500.7" r="6"/><circle cx="643.5" cy="1495.2" r="6"/><circle cx="658.1" cy="1486.4" r="6"/><circle cx="700.9" cy="1460.1" r="6"/><circle cx="849" cy="1367.5" r="6"/></g>
<text class="eq" x="745" y="1393" text-anchor="middle">y = 5.5998x - 363.76</text>
<text class="eq" x="745" y="1417" text-anchor="middle">R<tspan dy="-6" font-size="9">2</tspan><tspan dy="6"> = 1</tspan></text>

<line x1="958" y1="1512" x2="958" y2="1323" stroke="#000" stroke-width="4" marker-end="url(#ah)"/>
<text class="ax" transform="translate(944,1410) rotate(-90)" text-anchor="middle">% of max</text>
<rect x="998" y="1320" width="186" height="182" fill="#fff" stroke="#444" stroke-width="1"/>
<g class="hg"><line x1="1017" y1="1320" x2="1017" y2="1502"/><line x1="1054" y1="1320" x2="1054" y2="1502"/><line x1="1091" y1="1320" x2="1091" y2="1502"/><line x1="1128" y1="1320" x2="1128" y2="1502"/><line x1="1166" y1="1320" x2="1166" y2="1502"/></g>
<use href="#pk" class="gr" transform="translate(1070,1502) scale(11,174)"/>
<path d="M1092,1502 L1100,1496 L1107,1490 L1113,1478 L1118,1450 L1123,1410 L1127,1370 L1130,1344 L1133,1348 L1136,1390 L1139,1450 L1143,1492 L1148,1502Z" fill="#8c8cf8" stroke="#2020f0" stroke-width="1"/>
<g class="tk" text-anchor="end"><text x="995" y="1504">0</text><text x="995" y="1469">20</text><text x="995" y="1435">40</text><text x="995" y="1400">60</text><text x="995" y="1366">80</text><text x="995" y="1331">100</text></g>
<g class="dk" text-anchor="middle"><text x="1022" y="1518">10¹</text><text x="1059" y="1518">10²</text><text x="1096" y="1518">10³</text><text x="1133" y="1518">10⁴</text><text x="1171" y="1518">10⁵</text></g>
<line x1="962" y1="1533" x2="1178" y2="1533" stroke="#000" stroke-width="4" marker-end="url(#ah)"/>
<text class="lb" x="1068" y="1560" text-anchor="middle">BV421 (L1CAM)</text>
</g>
</svg>
</body></html>
